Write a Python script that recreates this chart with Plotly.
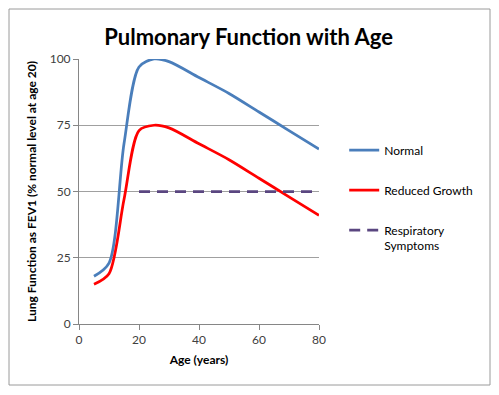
import plotly.graph_objects as go

ages_normal = [5, 10, 15, 20, 25, 30, 40, 50, 60, 70, 80]
normal = [18, 23, 68, 97, 100, 99, 93, 87, 80, 73, 66]

ages_reduced = [5, 10, 15, 20, 25, 30, 40, 50, 60, 70, 80]
reduced = [15, 19, 47, 73, 75, 74, 68, 62, 55, 48, 41]

ages_resp = [20, 80]
resp = [50, 50]

FONT = "Lato, Calibri, 'Open Sans', sans-serif"

fig = go.Figure()
fig.add_trace(go.Scatter(x=ages_normal, y=normal, mode="lines", name="Normal",
                         legendgroup="a",
                         line=dict(color="#4A7EBB", width=2.75, shape="spline", smoothing=0.8)))
fig.add_trace(go.Scatter(x=ages_reduced, y=reduced, mode="lines", name="Reduced Growth",
                         legendgroup="b",
                         line=dict(color="#FF0000", width=2.75, shape="spline", smoothing=0.8)))
fig.add_trace(go.Scatter(x=ages_resp, y=resp, mode="lines", name="Respiratory<br>Symptoms",
                         legendgroup="c",
                         line=dict(color="#5A4680", width=2.75, dash="11px,7px")))

fig.update_layout(
    width=491, height=387,
    margin=dict(l=71, r=180, t=51, b=71, autoexpand=False),
    paper_bgcolor="white", plot_bgcolor="white",
    font=dict(family=FONT, size=12, color="#000000"),
    title=dict(text="<b>Pulmonary Function with Age</b>", x=0.49, xanchor="center",
               y=1 - 29/387, yanchor="middle", font=dict(size=22, family=FONT, color="#000000")),
    legend=dict(x=1.105, xanchor="left", y=0.71, yanchor="top", tracegroupgap=21,
                font=dict(size=12, family=FONT, color="#000000"), valign="top",
                bgcolor="rgba(0,0,0,0)"),
    xaxis=dict(range=[0, 80], tickvals=[0, 20, 40, 60, 80], showgrid=False,
               showline=True, linecolor="#868686", linewidth=1, automargin=False,
               ticks="outside", ticklen=5, tickcolor="#868686",
               tickfont=dict(size=12, color="#404040"),
               title=dict(text="<b>Age (years)</b>", font=dict(size=12, color="#000000"), standoff=9),
               zeroline=False),
    yaxis=dict(range=[0, 100], tickvals=[0, 25, 50, 75, 100], showgrid=True,
               gridcolor="#A0A0A0", gridwidth=1, automargin=False,
               showline=True, linecolor="#868686", linewidth=1,
               ticks="outside", ticklen=5, tickcolor="#868686",
               tickfont=dict(size=12, color="#404040"),
               title=dict(text="<b>Lung Function as FEV1 (% normal level at age 20)</b>",
                          font=dict(size=12, color="#000000"), standoff=10),
               zeroline=False),
    shapes=[dict(type="rect", xref="paper", yref="paper",
                 x0=-70/240, x1=411/240, y0=-61/265, y1=315/265,
                 line=dict(color="#9A9A9A", width=1), fillcolor="rgba(0,0,0,0)", layer="below")],
)

fig.write_html("out.html")
